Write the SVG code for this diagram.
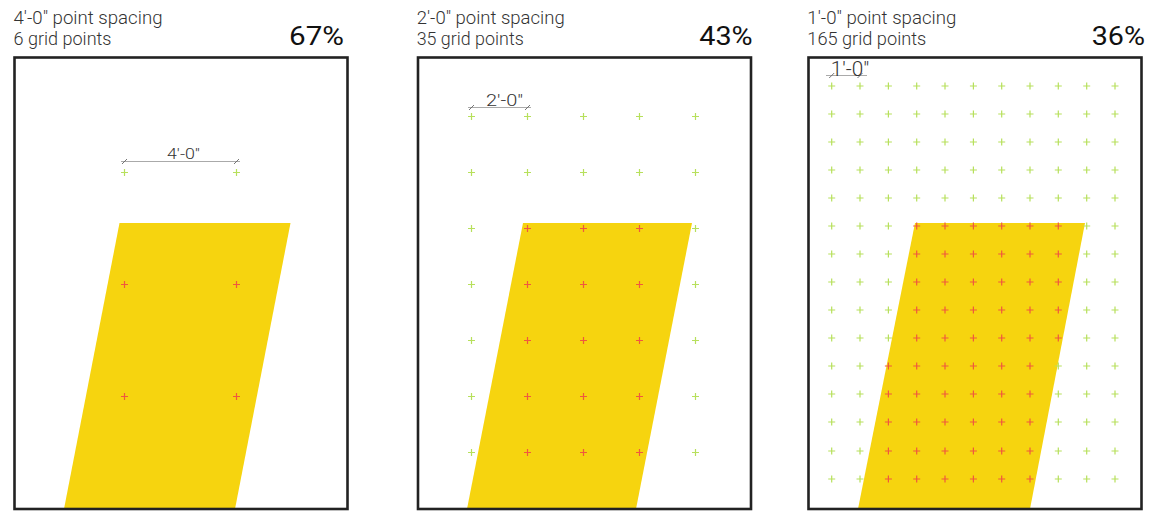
<svg xmlns="http://www.w3.org/2000/svg" xmlns:xlink="http://www.w3.org/1999/xlink" width="1160" height="520" viewBox="0 0 1160 520">
<style>
.title{font-family:Roboto,"Liberation Sans",sans-serif;font-weight:300;font-size:18.5px;fill:#333}
.pct{font-family:Roboto,"Liberation Sans",sans-serif;font-weight:400;font-size:26px;fill:#111}
.dim{font-family:Roboto,"Liberation Sans",sans-serif;font-weight:300;fill:#333}
.frame{fill:none;stroke:#222;stroke-width:2.6}
.slab{fill:#F6D40F}
.g{stroke:#B7E05C;stroke-width:1.2;fill:none}
.r{stroke:#F0583E;stroke-width:1.2;fill:none}
.dl{stroke:#aaa;stroke-width:1}
.tk{stroke:#666;stroke-width:0.9}
</style>
<defs>
<path id="pg" class="g" d="M-3.5 0H3.5M0-3.5V3.5"/>
<path id="pr" class="r" d="M-3.5 0H3.5M0-3.5V3.5"/>
<g id="r2a"><use href="#pg" x="471.5"/><use href="#pg" x="527.5"/><use href="#pg" x="583.5"/><use href="#pg" x="639.5"/><use href="#pg" x="695.5"/></g>
<g id="r2b"><use href="#pg" x="471.5"/><use href="#pr" x="527.5"/><use href="#pr" x="583.5"/><use href="#pr" x="639.5"/><use href="#pg" x="695.5"/></g>
<g id="r3a"><use href="#pg" x="831.7"/><use href="#pg" x="860"/><use href="#pg" x="888.4"/><use href="#pg" x="916.7"/><use href="#pg" x="945"/><use href="#pg" x="973.4"/><use href="#pg" x="1001.7"/><use href="#pg" x="1030"/><use href="#pg" x="1058.3"/><use href="#pg" x="1086.7"/><use href="#pg" x="1115"/></g>
<g id="r3b"><use href="#pg" x="831.7"/><use href="#pg" x="860"/><use href="#pg" x="888.4"/><use href="#pr" x="916.7"/><use href="#pr" x="945"/><use href="#pr" x="973.4"/><use href="#pr" x="1001.7"/><use href="#pr" x="1030"/><use href="#pr" x="1058.3"/><use href="#pg" x="1086.7"/><use href="#pg" x="1115"/></g>
<g id="r3c"><use href="#pg" x="831.7"/><use href="#pg" x="860"/><use href="#pr" x="888.4"/><use href="#pr" x="916.7"/><use href="#pr" x="945"/><use href="#pr" x="973.4"/><use href="#pr" x="1001.7"/><use href="#pr" x="1030"/><use href="#pg" x="1058.3"/><use href="#pg" x="1086.7"/><use href="#pg" x="1115"/></g>
</defs>
<rect width="1160" height="520" fill="#fff"/>

<g id="panel1">
<text class="title" x="13.5" y="24" textLength="149" lengthAdjust="spacingAndGlyphs">4'-0" point spacing</text>
<text class="title" x="13.5" y="44.5" textLength="98" lengthAdjust="spacingAndGlyphs">6 grid points</text>
<text class="pct" x="289" y="44.5" textLength="55" lengthAdjust="spacingAndGlyphs">67%</text>
<polygon class="slab" points="119.5,223 290.5,223 235,509 64,509"/>
<rect class="frame" x="14.5" y="57.5" width="333" height="451.5"/>
<g id="dim1">
<line class="dl" x1="121" y1="161.5" x2="240" y2="161.5"/>
<line class="tk" x1="122" y1="164" x2="127" y2="159"/>
<line class="tk" x1="234" y1="164" x2="239" y2="159"/>
<text class="dim" x="167" y="159" font-size="14.5" textLength="33" lengthAdjust="spacingAndGlyphs">4'-0"</text>
</g>
<use href="#pg" x="124.5" y="172.5"/><use href="#pg" x="236.5" y="172.5"/>
<use href="#pr" x="124.5" y="284.5"/><use href="#pr" x="236.5" y="284.5"/>
<use href="#pr" x="124.5" y="396.5"/><use href="#pr" x="236.5" y="396.5"/>
</g>

<g id="panel2">
<text class="title" x="416.7" y="24" textLength="148" lengthAdjust="spacingAndGlyphs">2'-0" point spacing</text>
<text class="title" x="416.7" y="44.5" textLength="107" lengthAdjust="spacingAndGlyphs">35 grid points</text>
<text class="pct" x="699.3" y="44.5" textLength="53.4" lengthAdjust="spacingAndGlyphs">43%</text>
<polygon class="slab" points="523,223 692,223 636,509 467,509"/>
<rect class="frame" x="418" y="57.5" width="333" height="451.5"/>
<g id="dim2">
<line class="dl" x1="468" y1="107.5" x2="531" y2="107.5"/>
<line class="tk" x1="469" y1="110" x2="474" y2="105"/>
<line class="tk" x1="525" y1="110" x2="530" y2="105"/>
<text class="dim" x="486" y="105.5" font-size="17" textLength="37" lengthAdjust="spacingAndGlyphs">2'-0"</text>
</g>
<use href="#r2a" y="116.5"/><use href="#r2a" y="172.5"/>
<use href="#r2b" y="228.5"/><use href="#r2b" y="284.5"/><use href="#r2b" y="340.5"/><use href="#r2b" y="396.5"/><use href="#r2b" y="452.5"/>
</g>

<g id="panel3">
<text class="title" x="807.3" y="24" textLength="149" lengthAdjust="spacingAndGlyphs">1'-0" point spacing</text>
<text class="title" x="807.3" y="44.5" textLength="119" lengthAdjust="spacingAndGlyphs">165 grid points</text>
<text class="pct" x="1091.7" y="44.5" textLength="53.3" lengthAdjust="spacingAndGlyphs">36%</text>
<polygon class="slab" points="915,223 1085,223 1030,509 858,509"/>
<rect class="frame" x="808.5" y="57.5" width="333" height="451.5"/>
<g id="dim3">
<line class="dl" x1="826" y1="75.5" x2="867" y2="75.5"/>
<line class="tk" x1="829.2" y1="78" x2="834.2" y2="73"/>
<line class="tk" x1="857.5" y1="78" x2="862.5" y2="73"/>
<text class="dim" x="830.7" y="75.5" font-size="20" textLength="38.5" lengthAdjust="spacingAndGlyphs">1'-0"</text>
</g>
<use href="#r3a" y="86"/><use href="#r3a" y="114"/><use href="#r3a" y="142"/><use href="#r3a" y="170"/><use href="#r3a" y="198"/>
<use href="#r3b" y="226"/><use href="#r3b" y="254"/><use href="#r3b" y="282"/><use href="#r3b" y="310"/><use href="#r3b" y="338"/>
<use href="#r3c" y="366"/><use href="#r3c" y="394"/><use href="#r3c" y="422"/><use href="#r3c" y="451"/><use href="#r3c" y="479"/>
</g>
</svg>
